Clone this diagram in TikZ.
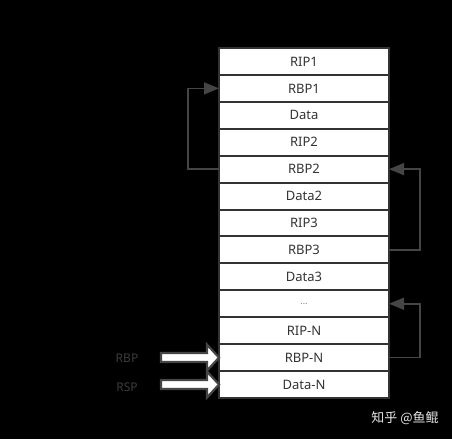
\documentclass[tikz,border=0pt]{standalone}
\usepackage{fontspec}
\setmainfont{Noto Sans}
\newfontfamily\cjkfont{Noto Sans CJK SC}
\usetikzlibrary{arrows.meta}
\definecolor{cellborder}{HTML}{333333}
\definecolor{celltext}{HTML}{333333}
\definecolor{connc}{HTML}{454545}
\definecolor{labc}{HTML}{3C3C3C}
\definecolor{wm}{HTML}{E6E6E6}
\newcommand\celldots{{\scriptsize .\kern0.5pt.\kern0.5pt.}}
\begin{document}
\begin{tikzpicture}[x=1pt,y=-1pt,
  cell/.style={draw=cellborder,line width=2pt,fill=white,minimum width=170pt,
    minimum height=26.92pt,inner sep=0pt,outer sep=0pt,anchor=north,
    text=celltext,font=\fontsize{13}{15}\selectfont},
  conn/.style={draw=connc,line width=1.6pt,-{Triangle[length=15pt,width=12pt]}},
  bigarrow/.style={draw=connc,line width=2.2pt,fill=white,line join=miter},
  reglab/.style={text=labc,font=\fontsize{12}{14}\selectfont,inner sep=0pt}]
\useasboundingbox (0,0) rectangle (452,439);
\fill[black] (0,0) rectangle (452,439);
\foreach \t [count=\i from 0] in {RIP1,RBP1,Data,RIP2,RBP2,Data2,RIP3,RBP3,Data3,\celldots,RIP-N,RBP-N,Data-N}{
  \node[cell] (c\i) at (304,48+\i*26.92) {\t};
}
\draw[conn] (c4.west) -- ++(-31,0) |- (c1.west);
\draw[conn] (c7.east) -- ++(31,0) |- (c4.east);
\draw[conn] (c11.east) -- ++(31,0) |- (c9.east);
\node[reglab] (rbp) at (127,358) {RBP};
\node[reglab] (rsp) at (127,387) {RSP};
\begin{scope}[shift={(c11.west)}]
  \draw[bigarrow] (-58,-4.5) -- (-12,-4.5) -- (-12,-13) -- (0,0) -- (-12,13) -- (-12,4.5) -- (-58,4.5) -- cycle;
\end{scope}
\begin{scope}[shift={(c12.west)}]
  \draw[bigarrow] (-58,-4.5) -- (-12,-4.5) -- (-12,-13) -- (0,0) -- (-12,13) -- (-12,4.5) -- (-58,4.5) -- cycle;
\end{scope}
\node[text=wm,font=\cjkfont\fontsize{13}{15}\selectfont,inner sep=0pt] (wmark) at (405,418) {知乎 @鱼鲲};
\end{tikzpicture}
\end{document}
